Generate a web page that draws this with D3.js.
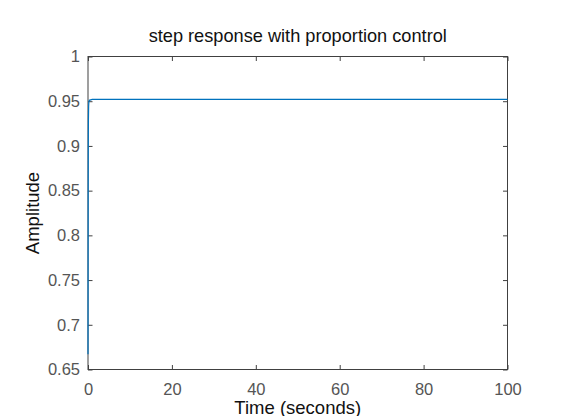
<!DOCTYPE html>
<html><head><meta charset="utf-8">
<script src="https://cdn.jsdelivr.net/npm/d3@7"></script>
<style>body{margin:0;background:#fff;} svg{display:block;}</style>
</head><body>
<svg id="c" width="561" height="416"></svg>
<script>
const timeValues = [0, 0.01, 0.02, 0.04, 0.06, 0.08, 0.1, 0.15, 0.2, 0.3, 1, 100];
const amplitudeValues = [0.667, 0.72, 0.77, 0.84, 0.885, 0.912, 0.928, 0.944, 0.949, 0.951, 0.952, 0.952];
const xTicks = [0, 20, 40, 60, 80, 100];
const yTicks = [0.65, 0.7, 0.75, 0.8, 0.85, 0.9, 0.95, 1];
const yTickLabels = ["0.65", "0.7", "0.75", "0.8", "0.85", "0.9", "0.95", "1"];

const svg = d3.select("#c");
const L = 88, R = 507.5, T = 56.5, B = 369.5;
const x = d3.scaleLinear().domain([0, 100]).range([L, R]);
const y = d3.scaleLinear().domain([0.65, 1]).range([B, T]);
const font = "'Liberation Sans', Arial, Helvetica, sans-serif";
const axCol = "#404040", txtCol = "#555555";

const tk = 4.5;
function styleAxis(g){
  g.select(".domain").remove();
  g.selectAll(".tick line").attr("stroke", axCol);
  g.selectAll(".tick text").attr("fill", txtCol).style("font-family", font).style("font-size", "16.5px");
}
svg.append("g").attr("transform", `translate(0,${B})`)
  .call(d3.axisBottom(x).tickValues(xTicks).tickSize(-tk).tickPadding(8).tickFormat(d3.format("d")))
  .call(styleAxis).call(g => g.selectAll(".tick text").attr("dy", "0.71em").attr("y", 14));
svg.append("g").attr("transform", `translate(0,${T})`)
  .call(d3.axisTop(x).tickValues(xTicks).tickSize(-tk).tickFormat(""))
  .call(styleAxis);
svg.append("g").attr("transform", `translate(${L},0)`)
  .call(d3.axisLeft(y).tickValues(yTicks).tickSize(-tk).tickFormat((d,i)=>yTickLabels[i]))
  .call(styleAxis).call(g => g.selectAll(".tick text").attr("x", -8));
svg.append("g").attr("transform", `translate(${R},0)`)
  .call(d3.axisRight(y).tickValues(yTicks).tickSize(-tk).tickFormat(""))
  .call(styleAxis);

svg.append("rect").attr("x", L).attr("y", T).attr("width", R - L).attr("height", B - T)
  .attr("fill", "none").attr("stroke", axCol).attr("stroke-width", 1);

const pts = timeValues.map((t, i) => [t, amplitudeValues[i]]);
svg.append("path").datum(pts)
  .attr("d", d3.line().x(d => x(d[0])).y(d => y(d[1])))
  .attr("fill", "none").attr("stroke", "#0072BD").attr("stroke-width", 1.2);

svg.append("text").attr("x", (L + R) / 2).attr("y", 42).attr("text-anchor", "middle")
  .style("font-family", font).style("font-size", "18.2px").attr("fill", "#111")
  .text("step response with proportion control");
svg.append("text").attr("x", (L + R) / 2).attr("y", 414).attr("text-anchor", "middle")
  .style("font-family", font).style("font-size", "18.5px").attr("fill", "#111")
  .text("Time (seconds)");
svg.append("text").attr("transform", `translate(39,${(T + B) / 2}) rotate(-90)`).attr("text-anchor", "middle")
  .style("font-family", font).style("font-size", "18.5px").attr("fill", "#111")
  .text("Amplitude");
</script>
</body></html>
